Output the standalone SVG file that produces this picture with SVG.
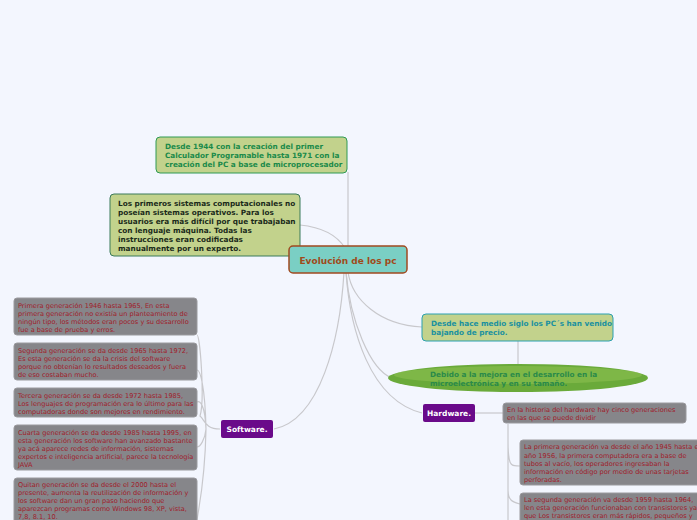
<svg xmlns="http://www.w3.org/2000/svg" width="697" height="520" viewBox="0 0 697 520">
<style>
text{font-family:Verdana,"DejaVu Sans",sans-serif}
.g{fill:#86868a;stroke:#9a9a9e;stroke-width:1}
.gt{font-size:6.6px;fill:#a0202a}
.green{fill:#c2d28c}
.bt{font-size:7.3px;font-weight:bold}
.c{fill:none;stroke:#c8c8cc;stroke-width:1.2}
.p{fill:#6a0a8a}
.pt{font-size:7.5px;font-weight:bold;fill:#fff}
</style>
<rect width="697" height="520" fill="#f3f6fe"/>
<g id="connectors">
<path class="c" d="M348 172 V248"/>
<path class="c" d="M300 225 C330 228 340 240 345 248"/>
<path class="c" d="M348 272 C352 300 380 325 422 327"/>
<path class="c" d="M518 341 V366"/>
<path class="c" d="M346 272 C350 320 370 370 392 378"/>
<path class="c" d="M346 272 C350 330 370 400 422 413"/>
<path class="c" d="M344 272 C340 340 320 420 274 429"/>
<path class="c" d="M474 413 H504"/>
<path class="c" d="M508 424 V520 M508 440 C508 470 512 465 520 466 M508 490 C508 500 512 502 520 504"/>
<path class="c" d="M220 429 C205 429 205 420 200 416 C205 400 200 335 197 335 M206 429 C205 385 200 370 197 370 M206 429 C205 405 200 400 197 402 M206 429 C205 440 200 447 197 447 M206 429 C205 480 200 500 197 520"/>
</g>
<g id="n1"><rect x="156" y="137" width="191" height="36" rx="4" class="green" stroke="#2e9a55"/>
<text class="bt" fill="#1a8a4a"><tspan x="165" y="149">Desde 1944 con la creación del primer</tspan><tspan x="165" y="158">Calculador Programable hasta 1971 con la</tspan><tspan x="165" y="167">creación del PC a base de microprocesador</tspan></text></g>
<g id="n2"><rect x="110" y="194" width="190" height="62" rx="4" class="green" stroke="#3a7a5a"/>
<text class="bt" fill="#1a2a1a"><tspan x="118" y="206">Los primeros sistemas computacionales no</tspan><tspan x="118" y="215">poseían sistemas operativos. Para los</tspan><tspan x="118" y="224">usuarios era más difícil por que trabajaban</tspan><tspan x="118" y="233">con lenguaje máquina. Todas las</tspan><tspan x="118" y="242">instrucciones eran codificadas</tspan><tspan x="118" y="251">manualmente por un experto.</tspan></text></g>
<g id="root"><rect x="289" y="246" width="118" height="27" rx="4" fill="#7acfc4" stroke="#a04a20" stroke-width="1.5"/>
<text x="348" y="264" text-anchor="middle" font-size="9" font-weight="bold" fill="#a04a1a">Evolución de los pc</text></g>
<g id="n3"><rect x="422" y="314" width="191" height="27" rx="4" class="green" stroke="#2aa0b0"/>
<text class="bt" fill="#1a90a0"><tspan x="431" y="326">Desde hace medio siglo los PC´s han venido</tspan><tspan x="431" y="335">bajando de precio.</tspan></text></g>
<g id="n4"><ellipse cx="518" cy="378" rx="130" ry="14" fill="#6aaa3a"/><ellipse cx="518" cy="375" rx="124" ry="9" fill="#8cc050" opacity="0.6"/>
<text class="bt" fill="#2a8a4a"><tspan x="430" y="377">Debido a la mejora en el desarrollo en la</tspan><tspan x="430" y="386">microelectrónica y en su tamaño.</tspan></text></g>
<g id="hw"><rect x="423" y="404" width="52" height="18" rx="2" class="p"/><text x="449" y="416" text-anchor="middle" class="pt">Hardware.</text></g>
<g id="hw0"><rect x="503" y="403" width="183" height="20" rx="3" class="g" stroke="#d08080"/><text class="gt"><tspan x="507" y="412">En la historia del hardware hay cinco generaciones</tspan><tspan x="507" y="420">en las que se puede dividir</tspan></text></g>
<g id="hw1"><rect x="520" y="440" width="180" height="45" rx="3" class="g"/><text class="gt"><tspan x="524" y="449">La primera generación va desde el año 1945 hasta el</tspan><tspan x="524" y="458">año 1956, la primera computadora era a base de</tspan><tspan x="524" y="466">tubos al vacío, los operadores ingresaban la</tspan><tspan x="524" y="474">información en código por medio de unas tarjetas</tspan><tspan x="524" y="482">perforadas.</tspan></text></g>
<g id="hw2"><rect x="520" y="493" width="180" height="30" rx="3" class="g"/><text class="gt"><tspan x="524" y="502">La segunda generación va desde 1959 hasta 1964,</tspan><tspan x="524" y="510">len esta generación funcionaban con transistores ya</tspan><tspan x="524" y="518">que Los transistores eran más rápidos, pequeños y</tspan></text></g>
<g id="sw"><rect x="221" y="420" width="52" height="18" rx="2" class="p"/><text x="247" y="432" text-anchor="middle" class="pt">Software.</text></g>
<g id="s1"><rect x="14" y="298" width="183" height="37" rx="3" class="g"/><text class="gt"><tspan x="18" y="308">Primera generación 1946 hasta 1965, En esta</tspan><tspan x="18" y="316">primera generación no existía un planteamiento de</tspan><tspan x="18" y="324">ningún tipo, los métodos eran pocos y su desarrollo</tspan><tspan x="18" y="332">fue a base de prueba y erros.</tspan></text></g>
<g id="s2"><rect x="14" y="343" width="183" height="37" rx="3" class="g"/><text class="gt"><tspan x="18" y="353">Segunda generación se da desde 1965 hasta 1972,</tspan><tspan x="18" y="361">Es esta generación se da la crisis del software</tspan><tspan x="18" y="369">porque no obtenían lo resultados deseados y fuera</tspan><tspan x="18" y="377">de eso costaban mucho.</tspan></text></g>
<g id="s3"><rect x="14" y="388" width="183" height="29" rx="3" class="g"/><text class="gt"><tspan x="18" y="398">Tercera generación se da desde 1972 hasta 1985,</tspan><tspan x="18" y="406">Los lenguajes de programación era lo último para las</tspan><tspan x="18" y="414">computadoras donde son mejores en rendimiento.</tspan></text></g>
<g id="s4"><rect x="14" y="425" width="183" height="45" rx="3" class="g"/><text class="gt"><tspan x="18" y="435">Cuarta generación se da desde 1985 hasta 1995, en</tspan><tspan x="18" y="443">esta generación los software han avanzado bastante</tspan><tspan x="18" y="451">ya acá aparece redes de  información, sistemas</tspan><tspan x="18" y="459">expertos e inteligencia artificial, parece la tecnología</tspan><tspan x="18" y="467">JAVA</tspan></text></g>
<g id="s5"><rect x="14" y="478" width="183" height="45" rx="3" class="g"/><text class="gt"><tspan x="18" y="487">Quitan generación se da desde el 2000 hasta el</tspan><tspan x="18" y="495">presente, aumenta  la reutilización de información y</tspan><tspan x="18" y="503">los software dan un gran paso haciendo que</tspan><tspan x="18" y="511">aparezcan programas como Windows 98, XP, vista,</tspan><tspan x="18" y="519">7,8, 8.1, 10.</tspan></text></g>
</svg>
